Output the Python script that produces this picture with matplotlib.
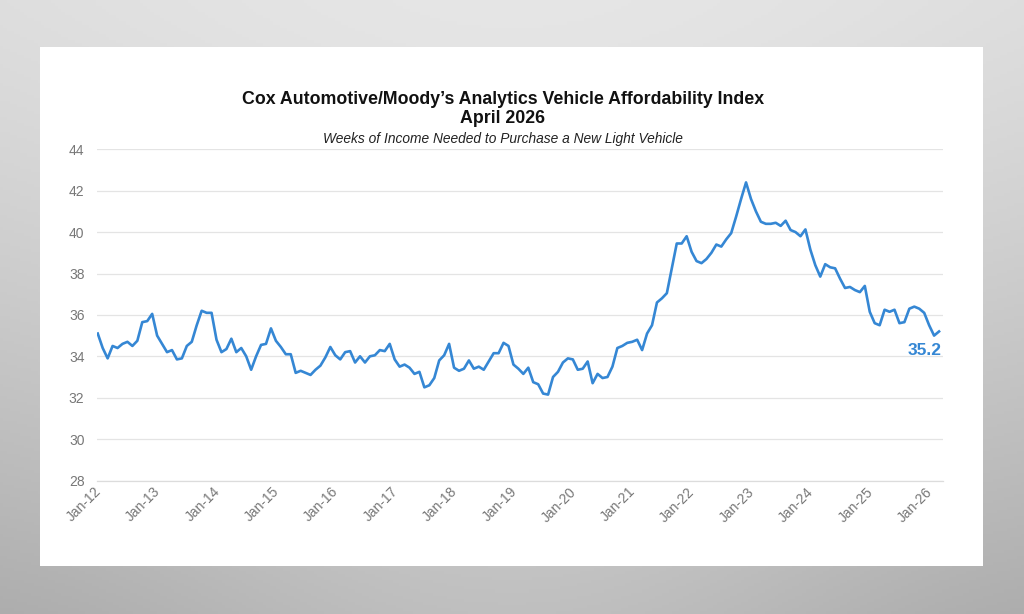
import numpy as np
import matplotlib
matplotlib.use("Agg")
import matplotlib.pyplot as plt
import matplotlib.transforms as mtransforms
from matplotlib.patches import Rectangle

# ---------------- data ----------------
start_year = 2012
weeks_2012 = [35.1, 34.4, 33.9, 34.5, 34.4, 34.6, 34.7, 34.5, 34.75, 35.65, 35.7, 36.05]
weeks_2013 = [35.0, 34.6, 34.2, 34.3, 33.85, 33.9, 34.5, 34.7, 35.5, 36.2, 36.1, 36.1]
weeks_2014 = [34.8, 34.2, 34.35, 34.85, 34.2, 34.4, 34.0, 33.35, 34.0, 34.55, 34.6, 35.35]
weeks_2015 = [34.75, 34.45, 34.1, 34.1, 33.2, 33.3, 33.2, 33.1, 33.35, 33.55, 33.95, 34.45]
weeks_2016 = [34.05, 33.85, 34.2, 34.25, 33.7, 34.0, 33.7, 34.0, 34.05, 34.3, 34.25, 34.6]
weeks_2017 = [33.85, 33.5, 33.6, 33.45, 33.15, 33.25, 32.5, 32.6, 32.95, 33.8, 34.05, 34.6]
weeks_2018 = [33.45, 33.3, 33.4, 33.8, 33.4, 33.5, 33.35, 33.75, 34.15, 34.15, 34.65, 34.5]
weeks_2019 = [33.6, 33.4, 33.15, 33.45, 32.75, 32.65, 32.2, 32.15, 33.0, 33.25, 33.7, 33.9]
weeks_2020 = [33.85, 33.35, 33.4, 33.75, 32.7, 33.15, 32.95, 33.0, 33.5, 34.4, 34.5, 34.65]
weeks_2021 = [34.7, 34.8, 34.3, 35.1, 35.5, 36.6, 36.8, 37.05, 38.25, 39.45, 39.45, 39.8]
weeks_2022 = [39.05, 38.6, 38.5, 38.7, 39.0, 39.4, 39.3, 39.65, 39.95, 40.75, 41.6, 42.4]
weeks_2023 = [41.6, 41.0, 40.5, 40.4, 40.4, 40.45, 40.3, 40.55, 40.1, 40.0, 39.8, 40.13]
weeks_2024 = [39.15, 38.4, 37.85, 38.45, 38.3, 38.25, 37.75, 37.3, 37.35, 37.2, 37.1, 37.4]
weeks_2025 = [36.15, 35.6, 35.5, 36.25, 36.15, 36.25, 35.6, 35.65, 36.3, 36.4, 36.3, 36.1]
weeks_2026 = [35.5, 35.0, 35.2]

weeks = (weeks_2012 + weeks_2013 + weeks_2014 + weeks_2015 + weeks_2016 + weeks_2017
         + weeks_2018 + weeks_2019 + weeks_2020 + weeks_2021 + weeks_2022 + weeks_2023
         + weeks_2024 + weeks_2025 + weeks_2026)

x_labels = ["Jan-12", "Jan-13", "Jan-14", "Jan-15", "Jan-16", "Jan-17", "Jan-18",
            "Jan-19", "Jan-20", "Jan-21", "Jan-22", "Jan-23", "Jan-24", "Jan-25", "Jan-26"]
y_ticks = [28, 30, 32, 34, 36, 38, 40, 42, 44]
last_label = "35.2"

title = "Cox Automotive/Moody\u2019s Analytics Vehicle Affordability Index"
title2 = "April 2026"
subtitle = "Weeks of Income Needed to Purchase a New Light Vehicle"

# ---------------- figure ----------------
W, H = 1024, 614
fig = plt.figure(figsize=(W / 100, H / 100), dpi=100)
plt.rcParams['font.family'] = ['Liberation Sans', 'DejaVu Sans']

# grey gradient background
bg = fig.add_axes([0, 0, 1, 1], zorder=-10)
yy = np.linspace(0, 1, 200)[:, None]
xx = np.linspace(0, 1, 300)[None, :]
grad = 0.87 - 0.17 * yy ** 1.3 + 0.03 * np.sin(np.pi * xx) - 0.02 * yy * np.cos(np.pi * xx * 2)
bg.imshow(np.dstack([grad, grad, grad]), aspect='auto', extent=[0, 1, 0, 1], origin='upper')
bg.set_xlim(0, 1)
bg.set_ylim(0, 1)
bg.axis('off')

# white panel
fig.patches.append(Rectangle((40 / W, 1 - 566 / H), (983 - 40) / W, (566 - 47) / H,
                             transform=fig.transFigure, facecolor='white',
                             edgecolor='none', zorder=-5))

# plot axes
left, right = 97 / W, 943 / W
top, bottom = 1 - 149.3 / H, 1 - 480.5 / H
ax = fig.add_axes([left, bottom, right - left, top - bottom])
ax.set_facecolor('none')

x = np.arange(len(weeks))
line_color = '#3587d4'
ax.plot(x, weeks, color=line_color, lw=1.9, solid_joinstyle='round', zorder=3)

ax.set_xlim(-0.15, 170.8)
ax.set_ylim(28, 44)
ax.set_yticks(y_ticks)
ax.set_yticklabels([str(t) for t in y_ticks], color='#777777', fontsize=10)
ax.set_xticks(np.arange(len(x_labels)) * 12)
ax.set_xticklabels(x_labels, rotation=45, ha='right', va='top',
                   rotation_mode='anchor', color='#777777', fontsize=10)
ax.tick_params(axis='both', length=0)
ax.tick_params(axis='y', pad=9)
ax.tick_params(axis='x', pad=3)
shift = mtransforms.ScaledTranslation(-4 / 100, 0, fig.dpi_scale_trans)
for lbl in ax.get_xticklabels():
    lbl.set_transform(lbl.get_transform() + shift)
ax.grid(axis='y', color='#e4e4e4', lw=0.9)
ax.set_axisbelow(True)
for s in ['top', 'right', 'left']:
    ax.spines[s].set_visible(False)
ax.spines['bottom'].set_color('#dcdcdc')
ax.spines['bottom'].set_linewidth(0.9)

ax.annotate(last_label, xy=(x[-1], weeks[-1]), xytext=(2, -8), textcoords='offset points',
            ha='right', va='top', color=line_color, fontsize=12.5, fontweight='bold')

# titles
fig.text(503 / W, 1 - 100 / H, title, ha='center', va='center', fontsize=12.75,
         fontweight='bold', color='#111111')
fig.text(503 / W, 1 - 118.5 / H, title2, ha='center', va='center', fontsize=12.75,
         fontweight='bold', color='#111111')
fig.text(503 / W, 1 - 139 / H, subtitle, ha='center', va='center', fontsize=9.9,
         style='italic', color='#222222')

fig.savefig('out.png', dpi=100)
